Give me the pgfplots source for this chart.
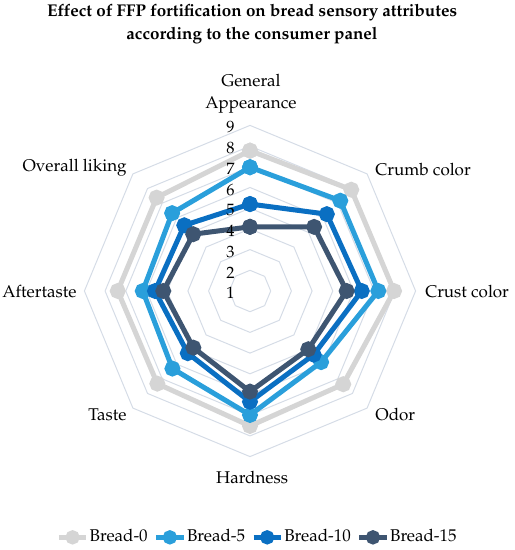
\documentclass[border=0pt]{standalone}
\usepackage[T1]{fontenc}
\usepackage{mathpazo}
\usepackage{pgfplots}
\usepackage{pgfplotstable}
\pgfplotsset{compat=1.18}
\definecolor{cB0}{HTML}{D5D5D5}
\definecolor{cB5}{HTML}{2A9FDB}
\definecolor{cB10}{HTML}{0A6FC2}
\definecolor{cB15}{HTML}{3E5571}
\definecolor{gridc}{HTML}{D5DCE6}
\pgfplotstableread{
angle B0 B5 B10 B15
90 7.78 6.98 5.20 4.10
45 7.92 7.17 6.25 5.38
0 7.96 7.20 6.40 5.67
-45 7.37 5.86 5.35 4.98
-90 7.52 6.99 6.35 5.86
-135 7.33 6.30 5.25 4.87
-180 7.39 6.18 5.59 5.19
-225 7.38 6.32 5.49 4.88
-270 7.78 6.98 5.20 4.10
}\sensory
\begin{document}
\begin{tikzpicture}
\begin{axis}[
  x=10.35pt, y=10.35pt,
  xmin=-8, xmax=8, ymin=-8, ymax=8,
  hide axis, clip=false,
  font=\fontsize{8.5}{10}\selectfont,
  legend columns=4,
  legend style={at={(axis cs:0.34,-11.9)}, anchor=center, draw=none, fill=none,
    font=\fontsize{8.5}{10}\selectfont,
    nodes={inner sep=0.5pt},
    /tikz/every odd column/.append style={column sep=0pt},
    /tikz/every even column/.append style={column sep=2.5pt},
    inner sep=0pt},
  legend image code/.code={\draw[mark repeat=2,mark phase=2,mark size=2.3pt,#1] plot coordinates {(0cm,0cm) (0.24cm,0cm) (0.48cm,0cm)};},
]
% grid rings (values 2..9, centre = 1)
\pgfplotsinvokeforeach{1,2,3,4,5,6,7,8}{
  \addplot[gridc, line width=0.5pt, data cs=polar, forget plot] coordinates
    {(0,#1) (45,#1) (90,#1) (135,#1) (180,#1) (225,#1) (270,#1) (315,#1) (360,#1)};
}
\addplot[cB0, line width=2.5pt, mark=*, mark size=2.7pt, data cs=polar]
  table[x=angle, y expr=\thisrow{B0}-1]{\sensory};
\addlegendentry{Bread-0}
\addplot[cB5, line width=2.5pt, mark=*, mark size=2.7pt, data cs=polar]
  table[x=angle, y expr=\thisrow{B5}-1]{\sensory};
\addlegendentry{Bread-5}
\addplot[cB10, line width=2.5pt, mark=*, mark size=2.7pt, data cs=polar]
  table[x=angle, y expr=\thisrow{B10}-1]{\sensory};
\addlegendentry{Bread-10}
\addplot[cB15, line width=2.5pt, mark=*, mark size=2.7pt, data cs=polar]
  table[x=angle, y expr=\thisrow{B15}-1]{\sensory};
\addlegendentry{Bread-15}
% tick labels
\pgfplotsinvokeforeach{1,2,3,4,5,6,7,8,9}{
  \node[font=\fontsize{8.2}{10}\selectfont, inner sep=0pt] at (axis cs:-0.94,{#1-1-0.1}) {#1};
}
% category labels
\node[align=center, inner sep=0pt] at (axis cs:0.05,9.52) {General\\[1pt]Appearance};
\node[anchor=west, inner sep=0pt] at (axis cs:6.04,5.89) {Crumb color};
\node[anchor=west, inner sep=0pt] at (axis cs:8.45,-0.05) {Crust color};
\node[anchor=west, inner sep=0pt] at (axis cs:6.04,-5.99) {Odor};
\node[inner sep=0pt] at (axis cs:0.1,-9.03) {Hardness};
\node[anchor=east, inner sep=0pt] at (axis cs:-5.94,-5.99) {Taste};
\node[anchor=east, inner sep=0pt] at (axis cs:-8.36,-0.05) {Aftertaste};
\node[anchor=east, inner sep=0pt] at (axis cs:-5.94,5.94) {Overall liking};
% title
\node[align=center, inner sep=0pt, font=\fontsize{8.5}{11.5}\selectfont\bfseries] at (axis cs:0.1,12.9)
  {Effect of FFP fortification on bread sensory attributes\\according to the consumer panel};
% bounding box
\path (axis cs:-12.077,-12.512) rectangle (axis cs:12.754,14.058);
\end{axis}
\end{tikzpicture}
\end{document}
